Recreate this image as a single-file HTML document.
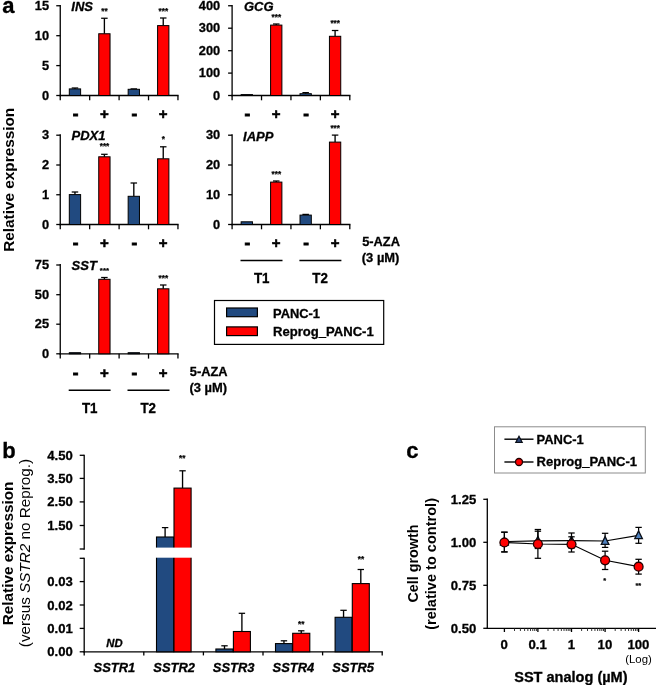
<!DOCTYPE html>
<html lang="en">
<head>
<meta charset="utf-8">
<title>Figure</title>
<style>
html,body{margin:0;padding:0;background:#fff;}
body{width:656px;height:685px;overflow:hidden;}
svg{display:block;}
svg text{font-family:"Liberation Sans",Arial,Helvetica,sans-serif;}
</style>
</head>
<body>
<svg width="656" height="685" viewBox="0 0 656 685">
<rect x="0" y="0" width="656" height="685" fill="#ffffff"/>
<line x1="60.25" y1="4.949999999999999" x2="60.25" y2="96.15" stroke="#000" stroke-width="1.3" />
<line x1="59.6" y1="95.5" x2="178.6" y2="95.5" stroke="#000" stroke-width="1.3" />
<line x1="56.25" y1="5.75" x2="60.25" y2="5.75" stroke="#000" stroke-width="1.3" />
<line x1="56.25" y1="35.7" x2="60.25" y2="35.7" stroke="#000" stroke-width="1.3" />
<line x1="56.25" y1="65.6" x2="60.25" y2="65.6" stroke="#000" stroke-width="1.3" />
<line x1="56.25" y1="95.5" x2="60.25" y2="95.5" stroke="#000" stroke-width="1.3" />
<line x1="60.25" y1="95.5" x2="60.25" y2="100.3" stroke="#000" stroke-width="1.3" />
<line x1="89.675" y1="95.5" x2="89.675" y2="100.3" stroke="#000" stroke-width="1.3" />
<line x1="119.1" y1="95.5" x2="119.1" y2="100.3" stroke="#000" stroke-width="1.3" />
<line x1="148.52499999999998" y1="95.5" x2="148.52499999999998" y2="100.3" stroke="#000" stroke-width="1.3" />
<line x1="177.95" y1="95.5" x2="177.95" y2="100.3" stroke="#000" stroke-width="1.3" />
<text x="49.1" y="9.93" font-size="12.8" font-weight="bold" font-style="normal" text-anchor="end" fill="#000"  stroke="#000" stroke-width="0.3">15</text>
<text x="49.1" y="39.88" font-size="12.8" font-weight="bold" font-style="normal" text-anchor="end" fill="#000"  stroke="#000" stroke-width="0.3">10</text>
<text x="49.1" y="69.78" font-size="12.8" font-weight="bold" font-style="normal" text-anchor="end" fill="#000"  stroke="#000" stroke-width="0.3">5</text>
<text x="49.1" y="99.68" font-size="12.8" font-weight="bold" font-style="normal" text-anchor="end" fill="#000"  stroke="#000" stroke-width="0.3">0</text>
<line x1="74.96000000000001" y1="88.9" x2="74.96000000000001" y2="88.0" stroke="#000" stroke-width="1.35" />
<line x1="71.71000000000001" y1="88.0" x2="78.21000000000001" y2="88.0" stroke="#000" stroke-width="1.25" />
<rect x="69.31" y="88.9" width="11.299999999999997" height="6.599999999999994" fill="#214a80" stroke="#000" stroke-width="1.0"/>
<line x1="104.39" y1="33.75" x2="104.39" y2="18.25" stroke="#000" stroke-width="1.35" />
<line x1="101.14" y1="18.25" x2="107.64" y2="18.25" stroke="#000" stroke-width="1.25" />
<rect x="98.74" y="33.75" width="11.300000000000011" height="61.75" fill="#ff0000" stroke="#000" stroke-width="1.0"/>
<line x1="133.81" y1="89.3" x2="133.81" y2="88.9" stroke="#000" stroke-width="1.35" />
<line x1="130.56" y1="88.9" x2="137.06" y2="88.9" stroke="#000" stroke-width="1.25" />
<rect x="128.16" y="89.3" width="11.300000000000011" height="6.200000000000003" fill="#214a80" stroke="#000" stroke-width="1.0"/>
<line x1="163.24" y1="25.6" x2="163.24" y2="18.0" stroke="#000" stroke-width="1.35" />
<line x1="159.99" y1="18.0" x2="166.49" y2="18.0" stroke="#000" stroke-width="1.25" />
<rect x="157.59" y="25.6" width="11.299999999999983" height="69.9" fill="#ff0000" stroke="#000" stroke-width="1.0"/>
<text x="71.3" y="11.1" font-size="13" font-weight="bold" font-style="italic" text-anchor="start" fill="#000"  stroke="#000" stroke-width="0.3">INS</text>
<text x="104.49" y="14.35" font-size="8.2" font-weight="bold" font-style="normal" text-anchor="middle" fill="#000" stroke="#000" stroke-width="0.2">**</text>
<text x="163.34" y="14.25" font-size="8.2" font-weight="bold" font-style="normal" text-anchor="middle" fill="#000" stroke="#000" stroke-width="0.2">***</text>
<text x="75.4625" y="119.39999999999999" font-size="17" font-weight="bold" font-style="normal" text-anchor="middle" fill="#000" stroke="#000" stroke-width="0.8">-</text>
<text x="104.38749999999999" y="119.2" font-size="15" font-weight="bold" font-style="normal" text-anchor="middle" fill="#000" stroke="#000" stroke-width="0.55">+</text>
<text x="134.3125" y="119.39999999999999" font-size="17" font-weight="bold" font-style="normal" text-anchor="middle" fill="#000" stroke="#000" stroke-width="0.8">-</text>
<text x="163.23749999999998" y="119.2" font-size="15" font-weight="bold" font-style="normal" text-anchor="middle" fill="#000" stroke="#000" stroke-width="0.55">+</text>
<line x1="232.1" y1="4.949999999999999" x2="232.1" y2="96.15" stroke="#000" stroke-width="1.3" />
<line x1="231.45" y1="95.5" x2="350.45" y2="95.5" stroke="#000" stroke-width="1.3" />
<line x1="228.1" y1="5.75" x2="232.1" y2="5.75" stroke="#000" stroke-width="1.3" />
<line x1="228.1" y1="28.2" x2="232.1" y2="28.2" stroke="#000" stroke-width="1.3" />
<line x1="228.1" y1="50.7" x2="232.1" y2="50.7" stroke="#000" stroke-width="1.3" />
<line x1="228.1" y1="73.1" x2="232.1" y2="73.1" stroke="#000" stroke-width="1.3" />
<line x1="228.1" y1="95.5" x2="232.1" y2="95.5" stroke="#000" stroke-width="1.3" />
<line x1="232.1" y1="95.5" x2="232.1" y2="100.3" stroke="#000" stroke-width="1.3" />
<line x1="261.525" y1="95.5" x2="261.525" y2="100.3" stroke="#000" stroke-width="1.3" />
<line x1="290.95" y1="95.5" x2="290.95" y2="100.3" stroke="#000" stroke-width="1.3" />
<line x1="320.375" y1="95.5" x2="320.375" y2="100.3" stroke="#000" stroke-width="1.3" />
<line x1="349.8" y1="95.5" x2="349.8" y2="100.3" stroke="#000" stroke-width="1.3" />
<text x="220.2" y="9.93" font-size="12.8" font-weight="bold" font-style="normal" text-anchor="end" fill="#000"  stroke="#000" stroke-width="0.3">400</text>
<text x="220.2" y="32.38" font-size="12.8" font-weight="bold" font-style="normal" text-anchor="end" fill="#000"  stroke="#000" stroke-width="0.3">300</text>
<text x="220.2" y="54.88" font-size="12.8" font-weight="bold" font-style="normal" text-anchor="end" fill="#000"  stroke="#000" stroke-width="0.3">200</text>
<text x="220.2" y="77.28" font-size="12.8" font-weight="bold" font-style="normal" text-anchor="end" fill="#000"  stroke="#000" stroke-width="0.3">100</text>
<text x="220.2" y="99.68" font-size="12.8" font-weight="bold" font-style="normal" text-anchor="end" fill="#000"  stroke="#000" stroke-width="0.3">0</text>
<rect x="241.16" y="94.6" width="11.300000000000011" height="0.9000000000000057" fill="#214a80" stroke="#000" stroke-width="1.0"/>
<line x1="276.24" y1="25.1" x2="276.24" y2="24.0" stroke="#000" stroke-width="1.35" />
<line x1="272.99" y1="24.0" x2="279.49" y2="24.0" stroke="#000" stroke-width="1.25" />
<rect x="270.59" y="25.1" width="11.300000000000011" height="70.4" fill="#ff0000" stroke="#000" stroke-width="1.0"/>
<line x1="305.65999999999997" y1="93.7" x2="305.65999999999997" y2="92.6" stroke="#000" stroke-width="1.35" />
<line x1="302.40999999999997" y1="92.6" x2="308.90999999999997" y2="92.6" stroke="#000" stroke-width="1.25" />
<rect x="300.01" y="93.7" width="11.300000000000011" height="1.7999999999999972" fill="#214a80" stroke="#000" stroke-width="1.0"/>
<line x1="335.09000000000003" y1="36.3" x2="335.09000000000003" y2="30.5" stroke="#000" stroke-width="1.35" />
<line x1="331.84000000000003" y1="30.5" x2="338.34000000000003" y2="30.5" stroke="#000" stroke-width="1.25" />
<rect x="329.44" y="36.3" width="11.300000000000011" height="59.2" fill="#ff0000" stroke="#000" stroke-width="1.0"/>
<text x="244.0" y="11.1" font-size="13" font-weight="bold" font-style="italic" text-anchor="start" fill="#000"  stroke="#000" stroke-width="0.3">GCG</text>
<text x="276.34" y="19.85" font-size="8.2" font-weight="bold" font-style="normal" text-anchor="middle" fill="#000" stroke="#000" stroke-width="0.2">***</text>
<text x="335.19" y="26.35" font-size="8.2" font-weight="bold" font-style="normal" text-anchor="middle" fill="#000" stroke="#000" stroke-width="0.2">***</text>
<text x="247.3125" y="119.39999999999999" font-size="17" font-weight="bold" font-style="normal" text-anchor="middle" fill="#000" stroke="#000" stroke-width="0.8">-</text>
<text x="276.2375" y="119.2" font-size="15" font-weight="bold" font-style="normal" text-anchor="middle" fill="#000" stroke="#000" stroke-width="0.55">+</text>
<text x="306.1625" y="119.39999999999999" font-size="17" font-weight="bold" font-style="normal" text-anchor="middle" fill="#000" stroke="#000" stroke-width="0.8">-</text>
<text x="335.0875" y="119.2" font-size="15" font-weight="bold" font-style="normal" text-anchor="middle" fill="#000" stroke="#000" stroke-width="0.55">+</text>
<line x1="60.25" y1="134.35" x2="60.25" y2="225.15" stroke="#000" stroke-width="1.3" />
<line x1="59.6" y1="224.5" x2="178.6" y2="224.5" stroke="#000" stroke-width="1.3" />
<line x1="56.25" y1="135.2" x2="60.25" y2="135.2" stroke="#000" stroke-width="1.3" />
<line x1="56.25" y1="165" x2="60.25" y2="165" stroke="#000" stroke-width="1.3" />
<line x1="56.25" y1="194.75" x2="60.25" y2="194.75" stroke="#000" stroke-width="1.3" />
<line x1="56.25" y1="224.5" x2="60.25" y2="224.5" stroke="#000" stroke-width="1.3" />
<line x1="60.25" y1="224.5" x2="60.25" y2="229.3" stroke="#000" stroke-width="1.3" />
<line x1="89.675" y1="224.5" x2="89.675" y2="229.3" stroke="#000" stroke-width="1.3" />
<line x1="119.1" y1="224.5" x2="119.1" y2="229.3" stroke="#000" stroke-width="1.3" />
<line x1="148.52499999999998" y1="224.5" x2="148.52499999999998" y2="229.3" stroke="#000" stroke-width="1.3" />
<line x1="177.95" y1="224.5" x2="177.95" y2="229.3" stroke="#000" stroke-width="1.3" />
<text x="49.1" y="139.38" font-size="12.8" font-weight="bold" font-style="normal" text-anchor="end" fill="#000"  stroke="#000" stroke-width="0.3">3</text>
<text x="49.1" y="169.18" font-size="12.8" font-weight="bold" font-style="normal" text-anchor="end" fill="#000"  stroke="#000" stroke-width="0.3">2</text>
<text x="49.1" y="198.93" font-size="12.8" font-weight="bold" font-style="normal" text-anchor="end" fill="#000"  stroke="#000" stroke-width="0.3">1</text>
<text x="49.1" y="228.68" font-size="12.8" font-weight="bold" font-style="normal" text-anchor="end" fill="#000"  stroke="#000" stroke-width="0.3">0</text>
<line x1="74.96000000000001" y1="194.6" x2="74.96000000000001" y2="192.0" stroke="#000" stroke-width="1.35" />
<line x1="71.71000000000001" y1="192.0" x2="78.21000000000001" y2="192.0" stroke="#000" stroke-width="1.25" />
<rect x="69.31" y="194.6" width="11.299999999999997" height="29.900000000000006" fill="#214a80" stroke="#000" stroke-width="1.0"/>
<line x1="104.39" y1="156.8" x2="104.39" y2="154.3" stroke="#000" stroke-width="1.35" />
<line x1="101.14" y1="154.3" x2="107.64" y2="154.3" stroke="#000" stroke-width="1.25" />
<rect x="98.74" y="156.8" width="11.300000000000011" height="67.69999999999999" fill="#ff0000" stroke="#000" stroke-width="1.0"/>
<line x1="133.81" y1="196.3" x2="133.81" y2="183.0" stroke="#000" stroke-width="1.35" />
<line x1="130.56" y1="183.0" x2="137.06" y2="183.0" stroke="#000" stroke-width="1.25" />
<rect x="128.16" y="196.3" width="11.300000000000011" height="28.19999999999999" fill="#214a80" stroke="#000" stroke-width="1.0"/>
<line x1="163.24" y1="158.8" x2="163.24" y2="146.8" stroke="#000" stroke-width="1.35" />
<line x1="159.99" y1="146.8" x2="166.49" y2="146.8" stroke="#000" stroke-width="1.25" />
<rect x="157.59" y="158.8" width="11.299999999999983" height="65.69999999999999" fill="#ff0000" stroke="#000" stroke-width="1.0"/>
<text x="71.5" y="140.4" font-size="13" font-weight="bold" font-style="italic" text-anchor="start" fill="#000"  stroke="#000" stroke-width="0.3">PDX1</text>
<text x="104.49" y="149.45" font-size="8.2" font-weight="bold" font-style="normal" text-anchor="middle" fill="#000" stroke="#000" stroke-width="0.2">***</text>
<text x="163.34" y="142.35" font-size="8.2" font-weight="bold" font-style="normal" text-anchor="middle" fill="#000" stroke="#000" stroke-width="0.2">*</text>
<text x="75.4625" y="248.1" font-size="17" font-weight="bold" font-style="normal" text-anchor="middle" fill="#000" stroke="#000" stroke-width="0.8">-</text>
<text x="104.38749999999999" y="247.9" font-size="15" font-weight="bold" font-style="normal" text-anchor="middle" fill="#000" stroke="#000" stroke-width="0.55">+</text>
<text x="134.3125" y="248.1" font-size="17" font-weight="bold" font-style="normal" text-anchor="middle" fill="#000" stroke="#000" stroke-width="0.8">-</text>
<text x="163.23749999999998" y="247.9" font-size="15" font-weight="bold" font-style="normal" text-anchor="middle" fill="#000" stroke="#000" stroke-width="0.55">+</text>
<line x1="232.1" y1="134.35" x2="232.1" y2="225.15" stroke="#000" stroke-width="1.3" />
<line x1="231.45" y1="224.5" x2="350.45" y2="224.5" stroke="#000" stroke-width="1.3" />
<line x1="228.1" y1="135.2" x2="232.1" y2="135.2" stroke="#000" stroke-width="1.3" />
<line x1="228.1" y1="165" x2="232.1" y2="165" stroke="#000" stroke-width="1.3" />
<line x1="228.1" y1="194.75" x2="232.1" y2="194.75" stroke="#000" stroke-width="1.3" />
<line x1="228.1" y1="224.5" x2="232.1" y2="224.5" stroke="#000" stroke-width="1.3" />
<line x1="232.1" y1="224.5" x2="232.1" y2="229.3" stroke="#000" stroke-width="1.3" />
<line x1="261.525" y1="224.5" x2="261.525" y2="229.3" stroke="#000" stroke-width="1.3" />
<line x1="290.95" y1="224.5" x2="290.95" y2="229.3" stroke="#000" stroke-width="1.3" />
<line x1="320.375" y1="224.5" x2="320.375" y2="229.3" stroke="#000" stroke-width="1.3" />
<line x1="349.8" y1="224.5" x2="349.8" y2="229.3" stroke="#000" stroke-width="1.3" />
<text x="220.2" y="139.38" font-size="12.8" font-weight="bold" font-style="normal" text-anchor="end" fill="#000"  stroke="#000" stroke-width="0.3">30</text>
<text x="220.2" y="169.18" font-size="12.8" font-weight="bold" font-style="normal" text-anchor="end" fill="#000"  stroke="#000" stroke-width="0.3">20</text>
<text x="220.2" y="198.93" font-size="12.8" font-weight="bold" font-style="normal" text-anchor="end" fill="#000"  stroke="#000" stroke-width="0.3">10</text>
<text x="220.2" y="228.68" font-size="12.8" font-weight="bold" font-style="normal" text-anchor="end" fill="#000"  stroke="#000" stroke-width="0.3">0</text>
<rect x="241.16" y="221.8" width="11.300000000000011" height="2.6999999999999886" fill="#214a80" stroke="#000" stroke-width="1.0"/>
<line x1="276.24" y1="182.1" x2="276.24" y2="181.0" stroke="#000" stroke-width="1.35" />
<line x1="272.99" y1="181.0" x2="279.49" y2="181.0" stroke="#000" stroke-width="1.25" />
<rect x="270.59" y="182.1" width="11.300000000000011" height="42.400000000000006" fill="#ff0000" stroke="#000" stroke-width="1.0"/>
<line x1="305.65999999999997" y1="215.1" x2="305.65999999999997" y2="214.4" stroke="#000" stroke-width="1.35" />
<line x1="302.40999999999997" y1="214.4" x2="308.90999999999997" y2="214.4" stroke="#000" stroke-width="1.25" />
<rect x="300.01" y="215.1" width="11.300000000000011" height="9.400000000000006" fill="#214a80" stroke="#000" stroke-width="1.0"/>
<line x1="335.09000000000003" y1="142.1" x2="335.09000000000003" y2="135.1" stroke="#000" stroke-width="1.35" />
<line x1="331.84000000000003" y1="135.1" x2="338.34000000000003" y2="135.1" stroke="#000" stroke-width="1.25" />
<rect x="329.44" y="142.1" width="11.300000000000011" height="82.4" fill="#ff0000" stroke="#000" stroke-width="1.0"/>
<text x="243.1" y="140.5" font-size="13" font-weight="bold" font-style="italic" text-anchor="start" fill="#000"  stroke="#000" stroke-width="0.3">IAPP</text>
<text x="276.34" y="177.15" font-size="8.2" font-weight="bold" font-style="normal" text-anchor="middle" fill="#000" stroke="#000" stroke-width="0.2">***</text>
<text x="335.19" y="130.85" font-size="8.2" font-weight="bold" font-style="normal" text-anchor="middle" fill="#000" stroke="#000" stroke-width="0.2">***</text>
<text x="247.3125" y="248.1" font-size="17" font-weight="bold" font-style="normal" text-anchor="middle" fill="#000" stroke="#000" stroke-width="0.8">-</text>
<text x="276.2375" y="247.9" font-size="15" font-weight="bold" font-style="normal" text-anchor="middle" fill="#000" stroke="#000" stroke-width="0.55">+</text>
<text x="306.1625" y="248.1" font-size="17" font-weight="bold" font-style="normal" text-anchor="middle" fill="#000" stroke="#000" stroke-width="0.8">-</text>
<text x="335.0875" y="247.9" font-size="15" font-weight="bold" font-style="normal" text-anchor="middle" fill="#000" stroke="#000" stroke-width="0.55">+</text>
<line x1="60.25" y1="263.95000000000005" x2="60.25" y2="354.45" stroke="#000" stroke-width="1.3" />
<line x1="59.6" y1="353.8" x2="178.6" y2="353.8" stroke="#000" stroke-width="1.3" />
<line x1="56.25" y1="265" x2="60.25" y2="265" stroke="#000" stroke-width="1.3" />
<line x1="56.25" y1="294.7" x2="60.25" y2="294.7" stroke="#000" stroke-width="1.3" />
<line x1="56.25" y1="324.2" x2="60.25" y2="324.2" stroke="#000" stroke-width="1.3" />
<line x1="56.25" y1="353.8" x2="60.25" y2="353.8" stroke="#000" stroke-width="1.3" />
<line x1="60.25" y1="353.8" x2="60.25" y2="358.6" stroke="#000" stroke-width="1.3" />
<line x1="89.675" y1="353.8" x2="89.675" y2="358.6" stroke="#000" stroke-width="1.3" />
<line x1="119.1" y1="353.8" x2="119.1" y2="358.6" stroke="#000" stroke-width="1.3" />
<line x1="148.52499999999998" y1="353.8" x2="148.52499999999998" y2="358.6" stroke="#000" stroke-width="1.3" />
<line x1="177.95" y1="353.8" x2="177.95" y2="358.6" stroke="#000" stroke-width="1.3" />
<text x="49.1" y="269.18" font-size="12.8" font-weight="bold" font-style="normal" text-anchor="end" fill="#000"  stroke="#000" stroke-width="0.3">75</text>
<text x="49.1" y="298.88" font-size="12.8" font-weight="bold" font-style="normal" text-anchor="end" fill="#000"  stroke="#000" stroke-width="0.3">50</text>
<text x="49.1" y="328.38" font-size="12.8" font-weight="bold" font-style="normal" text-anchor="end" fill="#000"  stroke="#000" stroke-width="0.3">25</text>
<text x="49.1" y="357.98" font-size="12.8" font-weight="bold" font-style="normal" text-anchor="end" fill="#000"  stroke="#000" stroke-width="0.3">0</text>
<rect x="69.31" y="352.7" width="11.299999999999997" height="1.1000000000000227" fill="#214a80" stroke="#000" stroke-width="1.0"/>
<line x1="104.39" y1="279.3" x2="104.39" y2="277.5" stroke="#000" stroke-width="1.35" />
<line x1="101.14" y1="277.5" x2="107.64" y2="277.5" stroke="#000" stroke-width="1.25" />
<rect x="98.74" y="279.3" width="11.300000000000011" height="74.5" fill="#ff0000" stroke="#000" stroke-width="1.0"/>
<rect x="128.16" y="352.7" width="11.300000000000011" height="1.1000000000000227" fill="#214a80" stroke="#000" stroke-width="1.0"/>
<line x1="163.24" y1="288.8" x2="163.24" y2="285.0" stroke="#000" stroke-width="1.35" />
<line x1="159.99" y1="285.0" x2="166.49" y2="285.0" stroke="#000" stroke-width="1.25" />
<rect x="157.59" y="288.8" width="11.299999999999983" height="65.0" fill="#ff0000" stroke="#000" stroke-width="1.0"/>
<text x="71.6" y="269.8" font-size="13" font-weight="bold" font-style="italic" text-anchor="start" fill="#000"  stroke="#000" stroke-width="0.3">SST</text>
<text x="163.34" y="281.35" font-size="8.2" font-weight="bold" font-style="normal" text-anchor="middle" fill="#000" stroke="#000" stroke-width="0.2">***</text>
<text x="104.4" y="273.37" font-size="7.8" font-weight="bold" font-style="normal" text-anchor="middle" fill="#000" stroke="#000" stroke-width="0.2">***</text>
<text x="75.4625" y="377.70000000000005" font-size="17" font-weight="bold" font-style="normal" text-anchor="middle" fill="#000" stroke="#000" stroke-width="0.8">-</text>
<text x="104.38749999999999" y="377.5" font-size="15" font-weight="bold" font-style="normal" text-anchor="middle" fill="#000" stroke="#000" stroke-width="0.55">+</text>
<text x="134.3125" y="377.70000000000005" font-size="17" font-weight="bold" font-style="normal" text-anchor="middle" fill="#000" stroke="#000" stroke-width="0.8">-</text>
<text x="163.23749999999998" y="377.5" font-size="15" font-weight="bold" font-style="normal" text-anchor="middle" fill="#000" stroke="#000" stroke-width="0.55">+</text>
<line x1="240.5" y1="260.5" x2="282.5" y2="260.5" stroke="#000" stroke-width="1.5" />
<text x="261.7" y="283.40000000000003" font-size="14" font-weight="bold" font-style="normal" text-anchor="middle" fill="#000" textLength="15.6" lengthAdjust="spacingAndGlyphs"  stroke="#000" stroke-width="0.3">T1</text>
<line x1="299.4" y1="260.5" x2="341.4" y2="260.5" stroke="#000" stroke-width="1.5" />
<text x="320.1" y="283.40000000000003" font-size="14" font-weight="bold" font-style="normal" text-anchor="middle" fill="#000" textLength="15.6" lengthAdjust="spacingAndGlyphs"  stroke="#000" stroke-width="0.3">T2</text>
<line x1="68.7" y1="390.3" x2="110.6" y2="390.3" stroke="#000" stroke-width="1.5" />
<text x="89.7" y="413.40000000000003" font-size="14" font-weight="bold" font-style="normal" text-anchor="middle" fill="#000" textLength="15.6" lengthAdjust="spacingAndGlyphs"  stroke="#000" stroke-width="0.3">T1</text>
<line x1="127.5" y1="390.3" x2="169.5" y2="390.3" stroke="#000" stroke-width="1.5" />
<text x="148.2" y="413.40000000000003" font-size="14" font-weight="bold" font-style="normal" text-anchor="middle" fill="#000" textLength="15.6" lengthAdjust="spacingAndGlyphs"  stroke="#000" stroke-width="0.3">T2</text>
<text x="362.2" y="246.0" font-size="12.8" font-weight="bold" font-style="normal" text-anchor="start" fill="#000" textLength="37.8" lengthAdjust="spacingAndGlyphs"  stroke="#000" stroke-width="0.3">5-AZA</text>
<text x="361.8" y="262.0" font-size="12.8" font-weight="bold" font-style="normal" text-anchor="start" fill="#000" textLength="37.6" lengthAdjust="spacingAndGlyphs"  stroke="#000" stroke-width="0.3">(3 µM)</text>
<text x="189.8" y="375.5" font-size="12.8" font-weight="bold" font-style="normal" text-anchor="start" fill="#000" textLength="37.8" lengthAdjust="spacingAndGlyphs"  stroke="#000" stroke-width="0.3">5-AZA</text>
<text x="189.4" y="391.5" font-size="12.8" font-weight="bold" font-style="normal" text-anchor="start" fill="#000" textLength="37.6" lengthAdjust="spacingAndGlyphs"  stroke="#000" stroke-width="0.3">(3 µM)</text>
<rect x="214.5" y="300.5" width="169.2" height="43.9" fill="#fff" stroke="#000" stroke-width="1.2"/>
<rect x="226.6" y="308.0" width="30.8" height="8.7" fill="#214a80" stroke="#000" stroke-width="1.2"/>
<rect x="226.6" y="326.9" width="30.8" height="8.7" fill="#ff0000" stroke="#000" stroke-width="1.2"/>
<text x="273" y="317.5" font-size="12.8" font-weight="bold" font-style="normal" text-anchor="start" fill="#000" textLength="47" lengthAdjust="spacingAndGlyphs"  stroke="#000" stroke-width="0.3">PANC-1</text>
<text x="273" y="336.2" font-size="12.8" font-weight="bold" font-style="normal" text-anchor="start" fill="#000" textLength="100.7" lengthAdjust="spacingAndGlyphs"  stroke="#000" stroke-width="0.3">Reprog_PANC-1</text>
<text x="2.2" y="12.5" font-size="22" font-weight="bold" font-style="normal" text-anchor="start" fill="#000"  stroke="#000" stroke-width="0.3">a</text>
<text x="2.2" y="458.4" font-size="22" font-weight="bold" font-style="normal" text-anchor="start" fill="#000"  stroke="#000" stroke-width="0.3">b</text>
<text x="406.2" y="458.2" font-size="22" font-weight="bold" font-style="normal" text-anchor="start" fill="#000"  stroke="#000" stroke-width="0.3">c</text>
<text transform="translate(14.2,251.8) rotate(-90)" font-size="15" font-weight="bold" textLength="144" lengthAdjust="spacingAndGlyphs">Relative expression</text>
<line x1="84.2" y1="454.65000000000003" x2="84.2" y2="549.85" stroke="#000" stroke-width="1.3" />
<line x1="79.7" y1="455.3" x2="84.2" y2="455.3" stroke="#000" stroke-width="1.3" />
<text x="72.8" y="459.8" font-size="13" font-weight="bold" font-style="normal" text-anchor="end" fill="#000" textLength="25.5" lengthAdjust="spacingAndGlyphs"  stroke="#000" stroke-width="0.3">4.50</text>
<line x1="79.7" y1="478.4" x2="84.2" y2="478.4" stroke="#000" stroke-width="1.3" />
<text x="72.8" y="482.9" font-size="13" font-weight="bold" font-style="normal" text-anchor="end" fill="#000" textLength="25.5" lengthAdjust="spacingAndGlyphs"  stroke="#000" stroke-width="0.3">3.50</text>
<line x1="79.7" y1="501.9" x2="84.2" y2="501.9" stroke="#000" stroke-width="1.3" />
<text x="72.8" y="506.4" font-size="13" font-weight="bold" font-style="normal" text-anchor="end" fill="#000" textLength="25.5" lengthAdjust="spacingAndGlyphs"  stroke="#000" stroke-width="0.3">2.50</text>
<line x1="79.7" y1="525.5" x2="84.2" y2="525.5" stroke="#000" stroke-width="1.3" />
<text x="72.8" y="530.0" font-size="13" font-weight="bold" font-style="normal" text-anchor="end" fill="#000" textLength="25.5" lengthAdjust="spacingAndGlyphs"  stroke="#000" stroke-width="0.3">1.50</text>
<line x1="79.7" y1="549.0" x2="84.2" y2="549.0" stroke="#000" stroke-width="1.3" />
<line x1="84.2" y1="557.65" x2="84.2" y2="652.4499999999999" stroke="#000" stroke-width="1.3" />
<line x1="79.7" y1="558.3" x2="84.2" y2="558.3" stroke="#000" stroke-width="1.3" />
<line x1="79.7" y1="581.6" x2="84.2" y2="581.6" stroke="#000" stroke-width="1.3" />
<text x="72.8" y="586.1" font-size="13" font-weight="bold" font-style="normal" text-anchor="end" fill="#000" textLength="25.5" lengthAdjust="spacingAndGlyphs"  stroke="#000" stroke-width="0.3">0.03</text>
<line x1="79.7" y1="605.0" x2="84.2" y2="605.0" stroke="#000" stroke-width="1.3" />
<text x="72.8" y="609.5" font-size="13" font-weight="bold" font-style="normal" text-anchor="end" fill="#000" textLength="25.5" lengthAdjust="spacingAndGlyphs"  stroke="#000" stroke-width="0.3">0.02</text>
<line x1="79.7" y1="628.4" x2="84.2" y2="628.4" stroke="#000" stroke-width="1.3" />
<text x="72.8" y="632.9" font-size="13" font-weight="bold" font-style="normal" text-anchor="end" fill="#000" textLength="25.5" lengthAdjust="spacingAndGlyphs"  stroke="#000" stroke-width="0.3">0.01</text>
<line x1="79.7" y1="651.8" x2="84.2" y2="651.8" stroke="#000" stroke-width="1.3" />
<text x="72.8" y="656.3" font-size="13" font-weight="bold" font-style="normal" text-anchor="end" fill="#000" textLength="25.5" lengthAdjust="spacingAndGlyphs"  stroke="#000" stroke-width="0.3">0.00</text>
<line x1="83.55" y1="651.8" x2="382.84999999999997" y2="651.8" stroke="#000" stroke-width="1.3" />
<line x1="84.2" y1="651.8" x2="84.2" y2="655.4" stroke="#000" stroke-width="1.3" />
<line x1="143.8" y1="651.8" x2="143.8" y2="655.4" stroke="#000" stroke-width="1.3" />
<line x1="203.4" y1="651.8" x2="203.4" y2="655.4" stroke="#000" stroke-width="1.3" />
<line x1="263.0" y1="651.8" x2="263.0" y2="655.4" stroke="#000" stroke-width="1.3" />
<line x1="322.6" y1="651.8" x2="322.6" y2="655.4" stroke="#000" stroke-width="1.3" />
<line x1="382.2" y1="651.8" x2="382.2" y2="655.4" stroke="#000" stroke-width="1.3" />
<line x1="165.10000000000002" y1="537.0" x2="165.10000000000002" y2="527.6" stroke="#000" stroke-width="1.35" />
<line x1="161.90000000000003" y1="527.6" x2="168.3" y2="527.6" stroke="#000" stroke-width="1.25" />
<rect x="156.5" y="537.0" width="17.200000000000017" height="114.79999999999995" fill="#214a80" stroke="#000" stroke-width="1.1"/>
<line x1="182.55" y1="488.1" x2="182.55" y2="470.8" stroke="#000" stroke-width="1.35" />
<line x1="179.35000000000002" y1="470.8" x2="185.75" y2="470.8" stroke="#000" stroke-width="1.25" />
<rect x="174.0" y="488.1" width="17.100000000000023" height="163.69999999999993" fill="#ff0000" stroke="#000" stroke-width="1.1"/>
<line x1="224.5" y1="649.0" x2="224.5" y2="645.8" stroke="#000" stroke-width="1.35" />
<line x1="221.3" y1="645.8" x2="227.7" y2="645.8" stroke="#000" stroke-width="1.25" />
<rect x="215.9" y="649.0" width="17.200000000000017" height="2.7999999999999545" fill="#214a80" stroke="#000" stroke-width="1.1"/>
<line x1="241.9" y1="631.5" x2="241.9" y2="613.3" stroke="#000" stroke-width="1.35" />
<line x1="238.70000000000002" y1="613.3" x2="245.1" y2="613.3" stroke="#000" stroke-width="1.25" />
<rect x="233.4" y="631.5" width="17.0" height="20.299999999999955" fill="#ff0000" stroke="#000" stroke-width="1.1"/>
<line x1="283.95000000000005" y1="643.6" x2="283.95000000000005" y2="640.8" stroke="#000" stroke-width="1.35" />
<line x1="280.75000000000006" y1="640.8" x2="287.15000000000003" y2="640.8" stroke="#000" stroke-width="1.25" />
<rect x="275.5" y="643.6" width="16.900000000000034" height="8.199999999999932" fill="#214a80" stroke="#000" stroke-width="1.1"/>
<line x1="301.25" y1="633.3" x2="301.25" y2="630.8" stroke="#000" stroke-width="1.35" />
<line x1="298.05" y1="630.8" x2="304.45" y2="630.8" stroke="#000" stroke-width="1.25" />
<rect x="292.70000000000005" y="633.3" width="17.099999999999966" height="18.5" fill="#ff0000" stroke="#000" stroke-width="1.1"/>
<line x1="343.55" y1="617.3" x2="343.55" y2="610.3" stroke="#000" stroke-width="1.35" />
<line x1="340.35" y1="610.3" x2="346.75" y2="610.3" stroke="#000" stroke-width="1.25" />
<rect x="335.1" y="617.3" width="16.899999999999977" height="34.5" fill="#214a80" stroke="#000" stroke-width="1.1"/>
<line x1="360.8" y1="583.6" x2="360.8" y2="569.5" stroke="#000" stroke-width="1.35" />
<line x1="357.6" y1="569.5" x2="364.0" y2="569.5" stroke="#000" stroke-width="1.25" />
<rect x="352.3" y="583.6" width="17.0" height="68.19999999999993" fill="#ff0000" stroke="#000" stroke-width="1.1"/>
<rect x="150" y="547.6" width="48" height="10.1" fill="#fff"/>
<text x="182.2" y="461.05" font-size="8.2" font-weight="bold" font-style="normal" text-anchor="middle" fill="#000" stroke="#000" stroke-width="0.2">**</text>
<text x="301.2" y="626.55" font-size="8.2" font-weight="bold" font-style="normal" text-anchor="middle" fill="#000" stroke="#000" stroke-width="0.2">**</text>
<text x="361" y="562.35" font-size="8.2" font-weight="bold" font-style="normal" text-anchor="middle" fill="#000" stroke="#000" stroke-width="0.2">**</text>
<text x="114.4" y="647.1" font-size="11" font-weight="bold" font-style="italic" text-anchor="middle" fill="#000" textLength="16.3" lengthAdjust="spacingAndGlyphs"  stroke="#000" stroke-width="0.3">ND</text>
<text x="114.4" y="671.7" font-size="13" font-weight="bold" font-style="italic" text-anchor="middle" fill="#000" textLength="41.6" lengthAdjust="spacingAndGlyphs"  stroke="#000" stroke-width="0.3">SSTR1</text>
<text x="174.1" y="671.7" font-size="13" font-weight="bold" font-style="italic" text-anchor="middle" fill="#000" textLength="41.6" lengthAdjust="spacingAndGlyphs"  stroke="#000" stroke-width="0.3">SSTR2</text>
<text x="233.6" y="671.7" font-size="13" font-weight="bold" font-style="italic" text-anchor="middle" fill="#000" textLength="41.6" lengthAdjust="spacingAndGlyphs"  stroke="#000" stroke-width="0.3">SSTR3</text>
<text x="293.4" y="671.7" font-size="13" font-weight="bold" font-style="italic" text-anchor="middle" fill="#000" textLength="41.6" lengthAdjust="spacingAndGlyphs"  stroke="#000" stroke-width="0.3">SSTR4</text>
<text x="353.1" y="671.7" font-size="13" font-weight="bold" font-style="italic" text-anchor="middle" fill="#000" textLength="41.6" lengthAdjust="spacingAndGlyphs"  stroke="#000" stroke-width="0.3">SSTR5</text>
<text transform="translate(12.9,625.2) rotate(-90)" font-size="15" font-weight="bold" textLength="143.5" lengthAdjust="spacingAndGlyphs">Relative expression</text>
<text transform="translate(29.8,647.2) rotate(-90)" font-size="15" font-weight="normal" textLength="188.4" lengthAdjust="spacingAndGlyphs">(versus <tspan font-style="italic">SSTR2</tspan> no Reprog.)</text>
<line x1="487.3" y1="498.55" x2="487.3" y2="628.9499999999999" stroke="#000" stroke-width="1.3" />
<line x1="486.65000000000003" y1="628.3" x2="656" y2="628.3" stroke="#000" stroke-width="1.3" />
<line x1="483.3" y1="499.29999999999995" x2="487.3" y2="499.29999999999995" stroke="#000" stroke-width="1.3" />
<text x="476.3" y="503.79999999999995" font-size="13" font-weight="bold" font-style="normal" text-anchor="end" fill="#000" textLength="25.5" lengthAdjust="spacingAndGlyphs"  stroke="#000" stroke-width="0.3">1.25</text>
<line x1="483.3" y1="542.3" x2="487.3" y2="542.3" stroke="#000" stroke-width="1.3" />
<text x="476.3" y="546.8" font-size="13" font-weight="bold" font-style="normal" text-anchor="end" fill="#000" textLength="25.5" lengthAdjust="spacingAndGlyphs"  stroke="#000" stroke-width="0.3">1.00</text>
<line x1="483.3" y1="585.3" x2="487.3" y2="585.3" stroke="#000" stroke-width="1.3" />
<text x="476.3" y="589.8" font-size="13" font-weight="bold" font-style="normal" text-anchor="end" fill="#000" textLength="25.5" lengthAdjust="spacingAndGlyphs"  stroke="#000" stroke-width="0.3">0.75</text>
<line x1="483.3" y1="628.3" x2="487.3" y2="628.3" stroke="#000" stroke-width="1.3" />
<text x="476.3" y="632.8" font-size="13" font-weight="bold" font-style="normal" text-anchor="end" fill="#000" textLength="25.5" lengthAdjust="spacingAndGlyphs"  stroke="#000" stroke-width="0.3">0.50</text>
<line x1="514.5" y1="628.3" x2="514.5" y2="631.0" stroke="#222" stroke-width="0.9" />
<line x1="520.41" y1="628.3" x2="520.41" y2="631.0" stroke="#222" stroke-width="0.9" />
<line x1="524.6" y1="628.3" x2="524.6" y2="631.0" stroke="#222" stroke-width="0.9" />
<line x1="527.85" y1="628.3" x2="527.85" y2="631.0" stroke="#222" stroke-width="0.9" />
<line x1="530.51" y1="628.3" x2="530.51" y2="631.0" stroke="#222" stroke-width="0.9" />
<line x1="532.75" y1="628.3" x2="532.75" y2="631.0" stroke="#222" stroke-width="0.9" />
<line x1="534.7" y1="628.3" x2="534.7" y2="631.0" stroke="#222" stroke-width="0.9" />
<line x1="536.41" y1="628.3" x2="536.41" y2="631.0" stroke="#222" stroke-width="0.9" />
<line x1="548.0" y1="628.3" x2="548.0" y2="631.0" stroke="#222" stroke-width="0.9" />
<line x1="553.91" y1="628.3" x2="553.91" y2="631.0" stroke="#222" stroke-width="0.9" />
<line x1="558.1" y1="628.3" x2="558.1" y2="631.0" stroke="#222" stroke-width="0.9" />
<line x1="561.35" y1="628.3" x2="561.35" y2="631.0" stroke="#222" stroke-width="0.9" />
<line x1="564.01" y1="628.3" x2="564.01" y2="631.0" stroke="#222" stroke-width="0.9" />
<line x1="566.25" y1="628.3" x2="566.25" y2="631.0" stroke="#222" stroke-width="0.9" />
<line x1="568.2" y1="628.3" x2="568.2" y2="631.0" stroke="#222" stroke-width="0.9" />
<line x1="569.91" y1="628.3" x2="569.91" y2="631.0" stroke="#222" stroke-width="0.9" />
<line x1="581.6" y1="628.3" x2="581.6" y2="631.0" stroke="#222" stroke-width="0.9" />
<line x1="587.51" y1="628.3" x2="587.51" y2="631.0" stroke="#222" stroke-width="0.9" />
<line x1="591.7" y1="628.3" x2="591.7" y2="631.0" stroke="#222" stroke-width="0.9" />
<line x1="594.95" y1="628.3" x2="594.95" y2="631.0" stroke="#222" stroke-width="0.9" />
<line x1="597.61" y1="628.3" x2="597.61" y2="631.0" stroke="#222" stroke-width="0.9" />
<line x1="599.85" y1="628.3" x2="599.85" y2="631.0" stroke="#222" stroke-width="0.9" />
<line x1="601.8" y1="628.3" x2="601.8" y2="631.0" stroke="#222" stroke-width="0.9" />
<line x1="603.51" y1="628.3" x2="603.51" y2="631.0" stroke="#222" stroke-width="0.9" />
<line x1="615.2" y1="628.3" x2="615.2" y2="631.0" stroke="#222" stroke-width="0.9" />
<line x1="621.11" y1="628.3" x2="621.11" y2="631.0" stroke="#222" stroke-width="0.9" />
<line x1="625.3" y1="628.3" x2="625.3" y2="631.0" stroke="#222" stroke-width="0.9" />
<line x1="628.55" y1="628.3" x2="628.55" y2="631.0" stroke="#222" stroke-width="0.9" />
<line x1="631.21" y1="628.3" x2="631.21" y2="631.0" stroke="#222" stroke-width="0.9" />
<line x1="633.45" y1="628.3" x2="633.45" y2="631.0" stroke="#222" stroke-width="0.9" />
<line x1="635.4" y1="628.3" x2="635.4" y2="631.0" stroke="#222" stroke-width="0.9" />
<line x1="637.11" y1="628.3" x2="637.11" y2="631.0" stroke="#222" stroke-width="0.9" />
<line x1="504.4" y1="628.3" x2="504.4" y2="632.0" stroke="#000" stroke-width="1.3" />
<line x1="537.9" y1="628.3" x2="537.9" y2="632.0" stroke="#000" stroke-width="1.3" />
<line x1="571.5" y1="628.3" x2="571.5" y2="632.0" stroke="#000" stroke-width="1.3" />
<line x1="605.1" y1="628.3" x2="605.1" y2="632.0" stroke="#000" stroke-width="1.3" />
<line x1="638.6" y1="628.3" x2="638.6" y2="632.0" stroke="#000" stroke-width="1.3" />
<polyline points="504.4,541.6 537.9,540.8 571.5,540.6 605.1,541.0 638.6,535.3" fill="none" stroke="#000" stroke-width="1.2"/>
<line x1="504.4" y1="532.2" x2="504.4" y2="551.8" stroke="#000" stroke-width="1.25" />
<line x1="501.2" y1="532.2" x2="507.59999999999997" y2="532.2" stroke="#000" stroke-width="1.25" />
<line x1="501.2" y1="551.8" x2="507.59999999999997" y2="551.8" stroke="#000" stroke-width="1.25" />
<polygon points="504.4,537.2 500.6,545.0 508.2,545.0" fill="#4f81bd" stroke="#0a0f18" stroke-width="1.3" stroke-linejoin="miter"/>
<line x1="537.9" y1="531.2" x2="537.9" y2="548.5" stroke="#000" stroke-width="1.25" />
<line x1="534.6999999999999" y1="531.2" x2="541.1" y2="531.2" stroke="#000" stroke-width="1.25" />
<line x1="534.6999999999999" y1="548.5" x2="541.1" y2="548.5" stroke="#000" stroke-width="1.25" />
<polygon points="537.9,536.4 534.1,544.2 541.7,544.2" fill="#4f81bd" stroke="#0a0f18" stroke-width="1.3" stroke-linejoin="miter"/>
<line x1="571.5" y1="533.0" x2="571.5" y2="548.0" stroke="#000" stroke-width="1.25" />
<line x1="568.3" y1="533.0" x2="574.7" y2="533.0" stroke="#000" stroke-width="1.25" />
<line x1="568.3" y1="548.0" x2="574.7" y2="548.0" stroke="#000" stroke-width="1.25" />
<polygon points="571.5,536.2 567.7,544.0 575.3,544.0" fill="#4f81bd" stroke="#0a0f18" stroke-width="1.3" stroke-linejoin="miter"/>
<line x1="605.1" y1="533.3" x2="605.1" y2="547.4" stroke="#000" stroke-width="1.25" />
<line x1="601.9" y1="533.3" x2="608.3000000000001" y2="533.3" stroke="#000" stroke-width="1.25" />
<line x1="601.9" y1="547.4" x2="608.3000000000001" y2="547.4" stroke="#000" stroke-width="1.25" />
<polygon points="605.1,536.6 601.3,544.4 608.9,544.4" fill="#4f81bd" stroke="#0a0f18" stroke-width="1.3" stroke-linejoin="miter"/>
<line x1="638.6" y1="527.4" x2="638.6" y2="543.3" stroke="#000" stroke-width="1.25" />
<line x1="635.4" y1="527.4" x2="641.8000000000001" y2="527.4" stroke="#000" stroke-width="1.25" />
<line x1="635.4" y1="543.3" x2="641.8000000000001" y2="543.3" stroke="#000" stroke-width="1.25" />
<polygon points="638.6,530.9 634.8,538.7 642.4,538.7" fill="#4f81bd" stroke="#0a0f18" stroke-width="1.3" stroke-linejoin="miter"/>
<polyline points="504.4,542.5 537.9,544.0 571.5,544.3 605.1,560.3 638.6,566.7" fill="none" stroke="#000" stroke-width="1.2"/>
<line x1="504.4" y1="532.2" x2="504.4" y2="552.0" stroke="#000" stroke-width="1.25" />
<line x1="501.2" y1="532.2" x2="507.59999999999997" y2="532.2" stroke="#000" stroke-width="1.25" />
<line x1="501.2" y1="552.0" x2="507.59999999999997" y2="552.0" stroke="#000" stroke-width="1.25" />
<circle cx="504.4" cy="542.5" r="4.45" fill="#ff0000" stroke="#200" stroke-width="1.3"/>
<line x1="537.9" y1="529.5" x2="537.9" y2="558.3" stroke="#000" stroke-width="1.25" />
<line x1="534.6999999999999" y1="529.5" x2="541.1" y2="529.5" stroke="#000" stroke-width="1.25" />
<line x1="534.6999999999999" y1="558.3" x2="541.1" y2="558.3" stroke="#000" stroke-width="1.25" />
<circle cx="537.9" cy="544.0" r="4.45" fill="#ff0000" stroke="#200" stroke-width="1.3"/>
<line x1="571.5" y1="536.8" x2="571.5" y2="552.0" stroke="#000" stroke-width="1.25" />
<line x1="568.3" y1="536.8" x2="574.7" y2="536.8" stroke="#000" stroke-width="1.25" />
<line x1="568.3" y1="552.0" x2="574.7" y2="552.0" stroke="#000" stroke-width="1.25" />
<circle cx="571.5" cy="544.3" r="4.45" fill="#ff0000" stroke="#200" stroke-width="1.3"/>
<line x1="605.1" y1="551.2" x2="605.1" y2="569.5" stroke="#000" stroke-width="1.25" />
<line x1="601.9" y1="551.2" x2="608.3000000000001" y2="551.2" stroke="#000" stroke-width="1.25" />
<line x1="601.9" y1="569.5" x2="608.3000000000001" y2="569.5" stroke="#000" stroke-width="1.25" />
<circle cx="605.1" cy="560.3" r="4.45" fill="#ff0000" stroke="#200" stroke-width="1.3"/>
<line x1="638.6" y1="559.3" x2="638.6" y2="574.1" stroke="#000" stroke-width="1.25" />
<line x1="635.4" y1="559.3" x2="641.8000000000001" y2="559.3" stroke="#000" stroke-width="1.25" />
<line x1="635.4" y1="574.1" x2="641.8000000000001" y2="574.1" stroke="#000" stroke-width="1.25" />
<circle cx="638.6" cy="566.7" r="4.45" fill="#ff0000" stroke="#200" stroke-width="1.3"/>
<text x="604.7" y="583.28" font-size="7.4" font-weight="bold" font-style="normal" text-anchor="middle" fill="#000" stroke="#000" stroke-width="0.2">*</text>
<text x="638.3" y="588.18" font-size="7.4" font-weight="bold" font-style="normal" text-anchor="middle" fill="#000" stroke="#000" stroke-width="0.2">**</text>
<text x="504.2" y="648.6" font-size="13.2" font-weight="bold" font-style="normal" text-anchor="middle" fill="#000"  stroke="#000" stroke-width="0.3">0</text>
<text x="537.6999999999999" y="648.6" font-size="13.2" font-weight="bold" font-style="normal" text-anchor="middle" fill="#000"  stroke="#000" stroke-width="0.3">0.1</text>
<text x="571.3" y="648.6" font-size="13.2" font-weight="bold" font-style="normal" text-anchor="middle" fill="#000"  stroke="#000" stroke-width="0.3">1</text>
<text x="604.9" y="648.6" font-size="13.2" font-weight="bold" font-style="normal" text-anchor="middle" fill="#000"  stroke="#000" stroke-width="0.3">10</text>
<text x="638.4" y="648.6" font-size="13.2" font-weight="bold" font-style="normal" text-anchor="middle" fill="#000"  stroke="#000" stroke-width="0.3">100</text>
<text x="625.2" y="663.1" font-size="11.6" font-weight="normal" font-style="normal" text-anchor="start" fill="#000" textLength="26.6" lengthAdjust="spacingAndGlyphs" >(Log)</text>
<text x="514.2" y="681.6" font-size="14" font-weight="bold" font-style="normal" text-anchor="start" fill="#000" textLength="113.4" lengthAdjust="spacingAndGlyphs"  stroke="#000" stroke-width="0.3">SST analog (µM)</text>
<rect x="494.5" y="426.8" width="150.8" height="46.2" fill="#fff" stroke="#8c8c8c" stroke-width="1"/>
<line x1="504.4" y1="439.2" x2="533.5" y2="439.2" stroke="#000" stroke-width="1.4" />
<line x1="504.4" y1="462.0" x2="533.5" y2="462.0" stroke="#000" stroke-width="1.4" />
<polygon points="519,436.3 515.8,442.4 522.2,442.4" fill="#2f4a80" stroke="#0a0f18" stroke-width="1.2"/>
<circle cx="519" cy="462" r="3.5" fill="#ff0000" stroke="#200" stroke-width="1.3"/>
<text x="536.6" y="443.7" font-size="13" font-weight="bold" font-style="normal" text-anchor="start" fill="#000" textLength="47.2" lengthAdjust="spacingAndGlyphs"  stroke="#000" stroke-width="0.3">PANC-1</text>
<text x="536.6" y="466.4" font-size="13" font-weight="bold" font-style="normal" text-anchor="start" fill="#000" textLength="100.5" lengthAdjust="spacingAndGlyphs"  stroke="#000" stroke-width="0.3">Reprog_PANC-1</text>
<text transform="translate(417.7,602.5) rotate(-90)" font-size="14.5" font-weight="bold" textLength="78" lengthAdjust="spacingAndGlyphs">Cell growth</text>
<text transform="translate(435.6,629.8) rotate(-90)" font-size="14.5" font-weight="bold" textLength="131.8" lengthAdjust="spacingAndGlyphs">(relative to control)</text>
</svg>
</body>
</html>
